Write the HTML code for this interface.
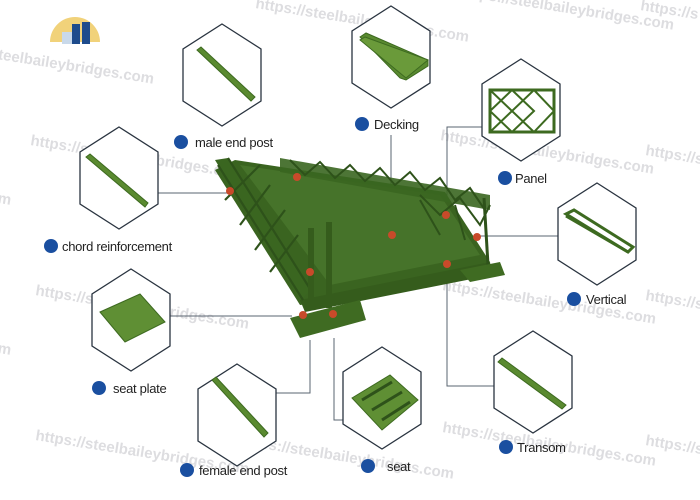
<!DOCTYPE html>
<html><head><meta charset="utf-8"><style>
html,body{margin:0;padding:0;background:#fff;}
svg{display:block;font-family:"Liberation Sans",sans-serif;}
</style></head><body>
<svg width="700" height="500" viewBox="0 0 700 500" xmlns="http://www.w3.org/2000/svg">
<defs>
<g id="hx"><polygon points="0,-51 39,-26 39,26 0,51 -39,26 -39,-26" fill="#fff" stroke="#2a3440" stroke-width="1.3"/></g>
</defs>
<rect width="700" height="500" fill="#fff"/>
<!-- watermarks -->
<g fill="#d2d2d6" font-size="15" font-weight="bold" opacity="0.75">
<text transform="translate(255,8) rotate(9)">https://steelbaileybridges.com</text>
<text transform="translate(-60,50) rotate(9)">https://steelbaileybridges.com</text>
<text transform="translate(460,-4) rotate(9)">https://steelbaileybridges.com</text>
<text transform="translate(640,10) rotate(9)">https://s</text>
<text transform="translate(30,145) rotate(9)">https://steelbaileybridges.com</text>
<text transform="translate(440,140) rotate(9)">https://steelbaileybridges.com</text>
<text transform="translate(645,155) rotate(9)">https://s</text>
<text transform="translate(-20,200) rotate(9)">com</text>
<text transform="translate(35,295) rotate(9)">https://steelbaileybridges.com</text>
<text transform="translate(442,290) rotate(9)">https://steelbaileybridges.com</text>
<text transform="translate(645,300) rotate(9)">https://s</text>
<text transform="translate(-20,350) rotate(9)">com</text>
<text transform="translate(35,440) rotate(9)">https://steelbaileybridges.com</text>
<text transform="translate(240,445) rotate(9)">https://steelbaileybridges.com</text>
<text transform="translate(442,432) rotate(9)">https://steelbaileybridges.com</text>
<text transform="translate(645,445) rotate(9)">https://s</text>
</g>
<!-- logo -->
<path d="M50,42 A25,25 0 0 1 100,42 Z" fill="#f1d27a"/>
<rect x="62" y="32" width="12" height="12" fill="#c9d9ea"/>
<rect x="72" y="24" width="8" height="20" fill="#1e4b8c"/>
<rect x="82" y="22" width="8" height="22" fill="#1e4b8c"/>
<!-- connectors -->
<g stroke="#5a6470" stroke-width="1" fill="none">
<line x1="157" y1="193" x2="228" y2="193"/>
<line x1="170" y1="316" x2="292" y2="316"/>
<polyline points="276,393 310,393 310,340"/>
<polyline points="334,338 334,420 350,420"/>
<line x1="391" y1="135" x2="391" y2="235"/>
<polyline points="483,127 447,127 447,212"/>
<line x1="478" y1="236" x2="558" y2="236"/>
<polyline points="447,265 447,386 494,386"/>
</g>
<!-- bridge -->
<g>
<polygon points="300,305 215,170 235,160 445,192 490,262 345,300" fill="#3a6420"/>
<polygon points="240,165 440,195 480,255 330,285" fill="#46732a"/>
<polygon points="300,300 490,262 492,275 305,312" fill="#355c1c"/>
<polygon points="215,160 228,158 312,290 300,300" fill="#3a6620"/>
<g stroke="#2e521a" stroke-width="2.2">
<line x1="218" y1="165" x2="303" y2="300"/><line x1="228" y1="158" x2="312" y2="292"/>
<line x1="225" y1="200" x2="260" y2="165"/><line x1="240" y1="225" x2="270" y2="185"/>
<line x1="255" y1="250" x2="285" y2="210"/><line x1="270" y1="272" x2="298" y2="235"/>
</g>
<polygon points="280,158 490,195 490,210 280,172" fill="#3a6620" opacity="0.9"/>
<g stroke="#2e521a" stroke-width="2" fill="none">
<path d="M290,160 L305,175 L320,162 L335,178 L350,165 L365,181 L380,168 L395,185 L410,172 L425,190 L440,178 L455,200 L470,188 L485,210"/>
<path d="M420,195 L440,215 L460,198 L480,225 L490,205 M420,200 L440,235 M455,205 L465,240"/>
<line x1="484" y1="198" x2="488" y2="265" stroke-width="3"/>
</g>
<rect x="308" y="228" width="6" height="80" fill="#355c1c"/>
<rect x="326" y="222" width="6" height="86" fill="#355c1c"/>
<polygon points="290,318 360,300 366,320 300,338" fill="#3f6b22"/>
<polygon points="460,270 500,262 505,275 470,282" fill="#3f6b22"/>
<g fill="#c84a2a">
<circle cx="230" cy="191" r="4"/><circle cx="297" cy="177" r="4"/><circle cx="392" cy="235" r="4"/>
<circle cx="446" cy="215" r="4"/><circle cx="477" cy="237" r="4"/><circle cx="447" cy="264" r="4"/>
<circle cx="310" cy="272" r="4"/><circle cx="303" cy="315" r="4"/><circle cx="333" cy="314" r="4"/>
</g>
</g>
<!-- hexagons -->
<use href="#hx" x="222" y="75"/>
<use href="#hx" x="391" y="57"/>
<use href="#hx" x="521" y="110"/>
<use href="#hx" x="119" y="178"/>
<use href="#hx" x="597" y="234"/>
<use href="#hx" x="131" y="320"/>
<use href="#hx" x="533" y="382"/>
<use href="#hx" x="237" y="415"/>
<use href="#hx" x="382" y="398"/>
<!-- parts -->
<g fill="#5a8a30" stroke="#3d6a20" stroke-width="1">
<polygon points="197,50 201,47 255,97 251,101"/>
<polygon points="360,37 366,33 428,60 428,66 406,80 400,78"/>
<polygon points="365,37 428,60 406,78 360,40" fill="#6a9a3a"/>
<rect x="490" y="90" width="64" height="42" fill="none" stroke="#3d6a20" stroke-width="3"/>
<path d="M490,90 L512,111 L490,132 M512,90 L534,111 L512,132 L490,111 Z M534,90 L554,111 L534,132 L512,111 Z" fill="none" stroke="#3d6a20" stroke-width="2"/>
<polygon points="566,214 574,210 633,247 628,252" fill="none" stroke-width="3"/>
<line x1="566" y1="216" x2="628" y2="252" stroke-width="3"/>
<polygon points="86,157 90,154 148,203 145,207"/>
<polygon points="100,312 140,294 165,322 125,342" fill="#5f8f34"/>
<polygon points="498,362 502,358 566,405 562,409"/>
<polygon points="212,380 216,377 268,433 264,437"/>
<polygon points="352,398 390,375 418,400 382,430" fill="#5f8f34"/>
<path d="M362,400 L392,382 M372,410 L402,392 M382,420 L410,402" stroke="#2e521a" stroke-width="3"/>
</g>
<!-- labels -->
<g fill="#1a4fa0">
<circle cx="181" cy="142" r="7"/><circle cx="362" cy="124" r="7"/><circle cx="505" cy="178" r="7"/>
<circle cx="51" cy="246" r="7"/><circle cx="574" cy="299" r="7"/><circle cx="99" cy="388" r="7"/>
<circle cx="506" cy="447" r="7"/><circle cx="187" cy="470" r="7"/><circle cx="368" cy="466" r="7"/>
</g>
<g fill="#222" font-size="13" letter-spacing="-0.3">
<text x="195" y="147">male end post</text>
<text x="374" y="129">Decking</text>
<text x="515" y="183">Panel</text>
<text x="62" y="251">chord reinforcement</text>
<text x="586" y="304">Vertical</text>
<text x="113" y="393">seat plate</text>
<text x="517" y="452">Transom</text>
<text x="199" y="475">female end post</text>
<text x="387" y="471">seat</text>
</g>
</svg>
</body></html>
